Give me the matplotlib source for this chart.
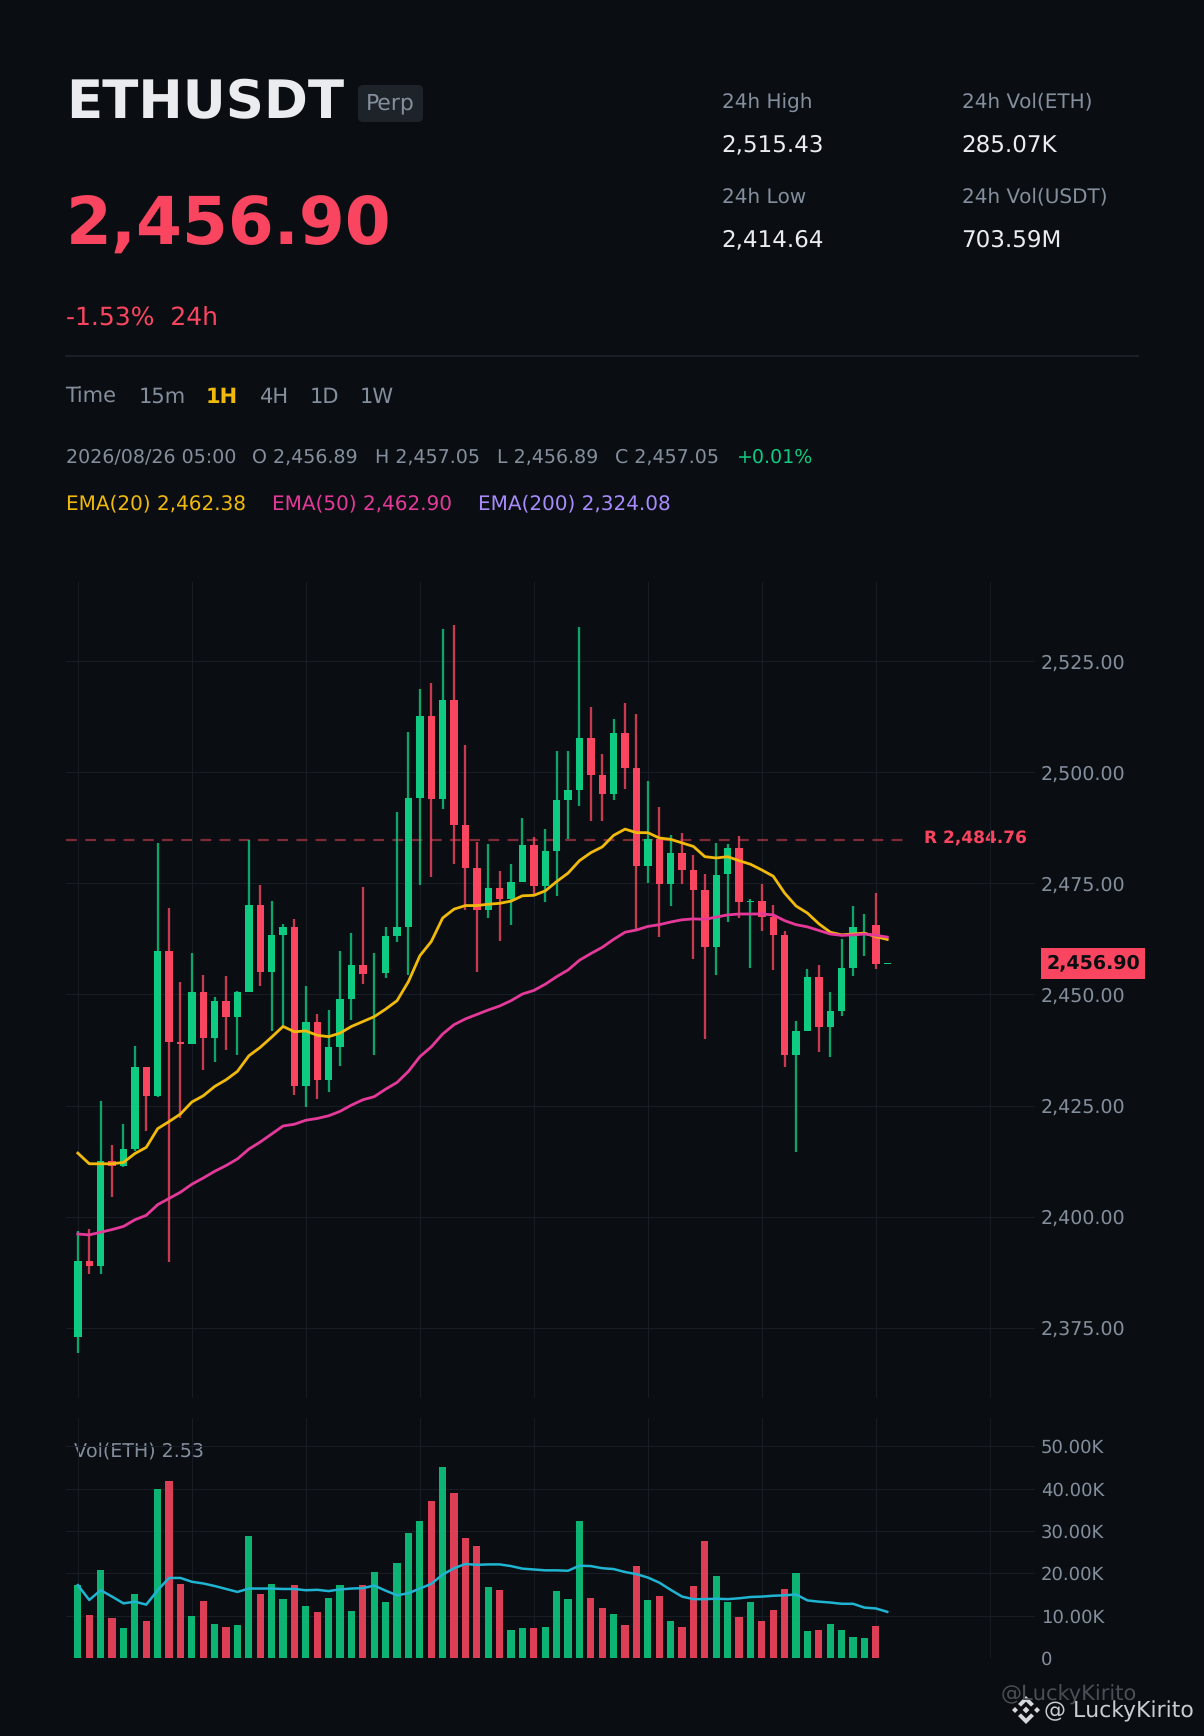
import numpy as np
import matplotlib
matplotlib.use('Agg')
import matplotlib.pyplot as plt
from matplotlib.patches import FancyBboxPatch, Polygon, Rectangle
from matplotlib.ticker import FuncFormatter

W, H = 1204, 1736

BG = '#0a0e12'
RED = '#fa4560'
GREEN = '#0ecb81'
YELLOW = '#f0b90b'
PINK = '#e5399a'
PURPLE = '#a78bfa'
CYAN = '#1fb4d2'
GREY = '#848e9c'
WHITE = '#eaecef'
GRID = '#181d25'

opens = [2373.0, 2390.1, 2389.0, 2412.6, 2411.3, 2415.3, 2433.7, 2427.2, 2459.8, 2439.2,
         2438.8, 2450.6, 2440.3, 2448.6, 2445.0, 2450.6, 2470.2, 2455.1, 2463.4, 2465.2,
         2429.4, 2443.8, 2430.8, 2438.2, 2449.0, 2456.7, 2454.7, 2454.9, 2463.2, 2465.2,
         2494.2, 2512.7, 2494.0, 2516.3, 2488.2, 2478.5, 2469.0, 2474.0, 2471.5, 2475.3,
         2483.7, 2474.4, 2482.3, 2493.8, 2496.0, 2507.7, 2499.4, 2495.1, 2508.9, 2501.0,
         2478.9, 2485.0, 2474.9, 2481.9, 2478.0, 2473.5, 2460.7, 2477.1, 2483.0, 2470.8,
         2471.1, 2467.5, 2463.4, 2436.4, 2441.8, 2454.0, 2442.7, 2446.3, 2456.0, 2465.3,
         2465.7, 2456.89]
closes = [2390.1, 2389.0, 2412.6, 2411.3, 2415.3, 2433.7, 2427.2, 2459.8, 2439.2, 2438.9,
          2450.6, 2440.3, 2448.6, 2445.0, 2450.6, 2470.2, 2455.1, 2463.4, 2465.2, 2429.4,
          2443.8, 2430.8, 2438.2, 2449.0, 2456.7, 2454.6, 2454.7, 2463.2, 2465.2, 2494.2,
          2512.7, 2494.0, 2516.3, 2488.2, 2478.5, 2469.0, 2474.0, 2471.5, 2475.3, 2483.7,
          2474.4, 2482.3, 2493.8, 2496.0, 2507.7, 2499.4, 2495.1, 2508.9, 2501.0, 2478.9,
          2485.0, 2474.9, 2481.9, 2478.0, 2473.5, 2460.7, 2476.9, 2483.0, 2470.8, 2471.0,
          2467.5, 2463.4, 2436.4, 2441.8, 2454.0, 2442.7, 2446.3, 2456.0, 2465.2, 2465.5,
          2456.9, 2457.05]
highs = [2396.8, 2397.3, 2426.1, 2416.2, 2420.9, 2438.4, 2433.7, 2484.1, 2469.5, 2452.8,
         2459.4, 2454.4, 2449.5, 2454.2, 2450.8, 2484.8, 2474.7, 2471.1, 2465.9, 2467.0,
         2451.9, 2445.6, 2446.5, 2459.8, 2463.9, 2474.2, 2459.4, 2465.2, 2491.1, 2509.1,
         2518.8, 2520.1, 2532.3, 2533.2, 2506.2, 2484.3, 2483.9, 2477.8, 2479.4, 2489.7,
         2485.5, 2487.3, 2504.8, 2504.8, 2532.7, 2514.7, 2504.1, 2512.0, 2515.6, 2513.1,
         2498.1, 2492.2, 2485.9, 2486.4, 2481.4, 2477.1, 2484.1, 2483.9, 2485.7, 2471.5,
         2474.9, 2470.2, 2464.3, 2444.1, 2455.8, 2456.7, 2450.6, 2462.5, 2469.9, 2468.1,
         2472.9, 2457.05]
lows = [2369.4, 2387.0, 2387.0, 2404.5, 2411.1, 2414.8, 2419.3, 2427.0, 2389.9, 2422.1,
        2438.8, 2432.9, 2434.9, 2437.5, 2436.4, 2450.6, 2451.9, 2441.8, 2443.0, 2427.4,
        2424.7, 2426.5, 2428.1, 2433.9, 2444.3, 2452.4, 2436.4, 2453.7, 2461.9, 2454.4,
        2474.7, 2476.5, 2491.8, 2479.4, 2469.0, 2455.1, 2467.2, 2462.1, 2465.7, 2475.3,
        2472.4, 2470.8, 2472.2, 2485.0, 2492.4, 2489.1, 2489.1, 2493.8, 2496.3, 2464.5,
        2475.1, 2463.0, 2470.0, 2474.9, 2458.0, 2440.0, 2454.4, 2466.3, 2467.2, 2456.0,
        2464.3, 2455.5, 2433.7, 2414.6, 2441.8, 2437.1, 2436.0, 2445.2, 2454.2, 2458.7,
        2455.8, 2456.89]
ema20 = [2414.3, 2411.9, 2411.9, 2411.9, 2412.2, 2414.2, 2415.6, 2419.8, 2421.4, 2423.1,
         2425.8, 2427.2, 2429.3, 2430.8, 2432.7, 2436.2, 2438.1, 2440.4, 2442.8, 2441.6,
         2441.8, 2440.8, 2440.5, 2441.3, 2442.8, 2443.9, 2445.0, 2446.7, 2448.6, 2452.9,
         2458.7, 2461.9, 2467.2, 2469.2, 2470.0, 2470.0, 2470.3, 2470.5, 2471.0, 2472.2,
         2472.3, 2473.3, 2475.4, 2477.3, 2480.1, 2481.9, 2483.2, 2485.8, 2487.2, 2486.4,
         2486.4, 2485.2, 2484.9, 2484.1, 2483.3, 2481.0, 2480.7, 2481.0, 2480.1, 2479.3,
         2478.0, 2476.6, 2472.8, 2469.9, 2468.3, 2465.9, 2464.0, 2463.4, 2463.6, 2463.8,
         2463.0, 2462.38]
ema50 = [2396.1, 2395.9, 2396.5, 2397.1, 2397.8, 2399.3, 2400.3, 2402.7, 2404.1, 2405.5,
         2407.3, 2408.7, 2410.2, 2411.5, 2413.0, 2415.2, 2416.8, 2418.6, 2420.4, 2420.8,
         2421.7, 2422.1, 2422.7, 2423.7, 2425.1, 2426.3, 2427.0, 2428.7, 2430.2, 2432.7,
         2436.0, 2438.2, 2441.1, 2443.2, 2444.5, 2445.5, 2446.5, 2447.4, 2448.6, 2450.1,
         2450.9, 2452.3, 2454.0, 2455.5, 2457.7, 2459.2, 2460.6, 2462.4, 2464.0, 2464.5,
         2465.3, 2465.7, 2466.3, 2466.8, 2467.0, 2466.9, 2467.4, 2467.9, 2468.1, 2468.1,
         2468.1, 2467.9, 2466.6, 2465.7, 2465.2, 2464.4, 2463.6, 2463.3, 2463.4, 2463.6,
         2463.3, 2462.9]
volumes = [17.2, 10.1, 20.7, 9.4, 7.1, 15.1, 8.7, 40.0, 41.7, 17.4,
           9.8, 13.4, 8.0, 7.3, 7.8, 28.8, 15.1, 17.4, 13.9, 17.2,
           12.3, 10.8, 14.1, 17.2, 11.1, 17.2, 20.3, 13.2, 22.4, 29.5,
           32.3, 37.0, 45.2, 38.9, 28.3, 26.4, 16.7, 16.0, 6.6, 7.1,
           7.1, 7.3, 15.8, 13.9, 32.4, 14.2, 11.8, 10.4, 7.8, 21.7,
           13.7, 14.6, 8.7, 7.3, 17.0, 27.6, 19.4, 13.2, 9.7, 13.2,
           8.7, 11.3, 16.3, 20.0, 6.4, 6.6, 8.0, 6.6, 5.0, 4.7,
           7.6, 0.00253]
vol_ma = [17.2, 13.7, 16.0, 14.5, 12.9, 13.3, 12.6, 16.0, 18.9, 18.9,
          18.0, 17.6, 17.0, 16.3, 15.6, 16.4, 16.4, 16.4, 16.3, 16.3,
          16.0, 16.1, 15.8, 16.2, 16.4, 16.5, 17.1, 15.9, 14.8, 15.3,
          16.4, 17.5, 19.7, 21.2, 22.2, 22.0, 22.1, 22.1, 21.7, 21.1,
          20.9, 20.7, 20.7, 20.6, 21.8, 21.7, 21.2, 21.0, 20.3, 19.8,
          19.0, 17.8, 16.1, 14.5, 13.9, 13.9, 14.0, 13.9, 14.1, 14.4,
          14.5, 14.7, 14.8, 15.0, 13.6, 13.3, 13.1, 12.8, 12.8, 11.9,
          11.7, 10.9]

price_ticks = [2375, 2400, 2425, 2450, 2475, 2500, 2525]
vol_ticks = [0, 10, 20, 30, 40, 50]
x_grid = [0, 10, 20, 30, 40, 50, 60, 70, 80]
resistance = 2484.76
last_price = 2456.90

stats = [('24h High', '2,515.43'), ('24h Vol(ETH)', '285.07K'),
         ('24h Low', '2,414.64'), ('24h Vol(USDT)', '703.59M')]
periods = ['Time', '15m', '1H', '4H', '1D', '1W']
ohlc_labels = ['2026/08/26 05:00', 'O 2,456.89', 'H 2,457.05', 'L 2,456.89', 'C 2,457.05']
ema_labels = ['EMA(20) 2,462.38', 'EMA(50) 2,462.90', 'EMA(200) 2,324.08']

plt.rcParams['lines.scale_dashes'] = False
plt.rcParams['text.hinting'] = 'none'
plt.rcParams['text.hinting_factor'] = 1


def px(size):
    return size * 0.72


def px_axes(fig, left, top, right, bottom):
    return fig.add_axes([left / W, 1 - bottom / H, (right - left) / W, (bottom - top) / H])


def style_panel(ax, tick_size):
    ax.set_facecolor('none')
    for s in ax.spines.values():
        s.set_visible(False)
    ax.set_axisbelow(True)
    ax.grid(True, color=GRID, linewidth=px(1.1))
    ax.yaxis.tick_right()
    ax.tick_params(axis='y', length=0, pad=px(6), labelsize=px(tick_size), labelcolor=GREY)
    ax.tick_params(axis='x', length=0, labelbottom=False)
    ax.set_xticks(x_grid)
    ax.set_xlim(-1.04, 83.96)


fig = plt.figure(figsize=(W / 100, H / 100), dpi=100, facecolor=BG)

# Header and watermark are placed in pixel coordinates on a full page axes
page = fig.add_axes([0, 0, 1, 1])
page.set_xlim(0, W)
page.set_ylim(H, 0)
page.axis('off')


def label(x, y, s, size, color, weight='normal'):
    page.text(x, y, s, fontsize=px(size), color=color, fontweight=weight, va='baseline', ha='left')


label(66, 118.3, 'ETHUSDT', 52.6, WHITE, 'bold')
page.add_patch(FancyBboxPatch((361, 88), 59, 31, boxstyle='round,pad=3,rounding_size=5',
                              fc='#1e2329', ec='none'))
label(365.5, 109.5, 'Perp', 22, GREY)
label(66, 245, '2,456.90', 66.2, RED, 'bold')
label(66, 325, '-1.53%  24h', 25.1, RED)
page.plot([65, 1139], [355.7, 355.7], color='#1e2430', lw=px(1.6), solid_capstyle='butt')

stat_x = [721.8, 962, 721.8, 962]
stat_y = [107.5, 107.5, 202.5, 202.5]
for (name, value), x, y in zip(stats, stat_x, stat_y):
    label(x, y, name, 20.1, GREY)
    label(x - 0.5, y + 44.2, value, 23.5, WHITE)

for s, x in zip(periods, [65.5, 138.5, 206, 259.5, 310, 359.2]):
    if s == '1H':
        label(x, 403, s, 21, YELLOW, 'bold')
    else:
        label(x, 403, s, 21, GREY)

for s, x in zip(ohlc_labels, [66, 252, 375, 497, 615]):
    label(x, 462.5, s, 19, GREY)
label(737, 462.5, '+0.01%', 19, GREEN)

for s, x, c in zip(ema_labels, [66, 272.5, 478], [YELLOW, PINK, PURPLE]):
    label(x, 509.5, s, 20.4, c)

# Candles
x = np.arange(len(opens))
opens = np.array(opens)
closes = np.array(closes)
up = closes >= opens
candle_colors = np.where(up, GREEN, RED)

ax = px_axes(fig, 66, 582, 1035, 1398)
style_panel(ax, 19)
ax.set_ylim(2359.2, 2542.8)
ax.set_yticks(price_ticks)
ax.yaxis.set_major_formatter(FuncFormatter(lambda v, p: f'{v:,.2f}'))
for t in ax.get_yticklabels():
    t.set_verticalalignment('center_baseline')

ax.plot([-1.04, 72.4], [resistance, resistance], color='#f6465d', alpha=0.5, lw=px(2.2),
        linestyle=(0, (px(10.9), px(8.3))), zorder=2)
ax.vlines(x, lows, highs, colors=candle_colors, linewidth=px(2.3), alpha=0.8, zorder=3)
ax.bar(x, np.abs(closes - opens), width=0.65, bottom=np.minimum(opens, closes),
       color=candle_colors, linewidth=0, zorder=4)
ax.plot(x, ema20, color=YELLOW, lw=px(2.8), zorder=5)
ax.plot(x, ema50, color=PINK, lw=px(2.8), zorder=6)

label(923.7, 844, f'R {resistance:,.2f}', 16.6, RED, 'bold')
page.add_patch(Rectangle((1040.5, 948), 104, 31, fc=RED, ec='none', zorder=5))
page.text(1046, 968, f'{last_price:,.2f}', fontsize=px(19), color='#0b0e11',
          fontweight='bold', va='baseline', ha='left', zorder=6)

# Volume
vax = px_axes(fig, 66, 1418, 1035, 1658)
style_panel(vax, 18)
vax.set_ylim(0, 56.67)
vax.set_yticks(vol_ticks)
vax.set_yticklabels(['0'] + [f'{v:.2f}K' for v in vol_ticks[1:]])
for t in vax.get_yticklabels():
    t.set_verticalalignment('center_baseline')
vax.get_ygridlines()[0].set_visible(False)
vax.bar(x, volumes, width=0.63, color=candle_colors, alpha=0.88, linewidth=0, zorder=3)
vax.plot(x, vol_ma, color=CYAN, lw=px(2.5), zorder=4)
label(74, 1456.2, 'Vol(ETH) 2.53', 18.9, GREY)

# Watermark
label(1000.7, 1700.7, '@LuckyKirito', 21, '#4a4f56')
label(1044.2, 1717.7, '@ LuckyKirito', 22, '#c9ccd1')
cx, cy = 1026, 1710
logo = [[(0, -3.4), (3.4, 0), (0, 3.4), (-3.4, 0)],
        [(-14, 0), (-11, -3), (-8, 0), (-11, 3)],
        [(14, 0), (11, -3), (8, 0), (11, 3)],
        [(0, -14), (8, -6), (5, -3.4), (0, -8.4), (-5, -3.4), (-8, -6)],
        [(0, 14), (8, 6), (5, 3.4), (0, 8.4), (-5, 3.4), (-8, 6)]]
for pts in logo:
    page.add_patch(Polygon([(cx + a, cy + b) for a, b in pts], fc='#d6d8db', ec='none'))

fig.savefig('out.png', dpi=100, facecolor=BG)
